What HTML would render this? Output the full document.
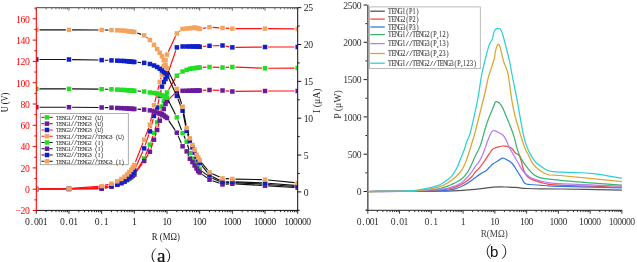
<!DOCTYPE html><html><head><meta charset="utf-8"><style>html,body{margin:0;padding:0;background:#fff;}svg{display:block;}</style></head><body><svg width="637" height="262" viewBox="0 0 637 262" font-family="'Liberation Serif','Noto Serif CJK SC',serif"><rect x="0" y="0" width="637" height="262" fill="#fff"/><g clip-path="url(#clipL)"><defs><clipPath id="clipL"><rect x="36.3" y="5.2" width="261.4" height="207.70000000000002"/></clipPath></defs><path d="M39.45,189.08L65.83,188.92M72.12,188.85L98.50,188.45M104.74,187.80L108.39,187.10M135.98,171.62L142.50,161.08M145.37,155.49L148.70,147.51M150.95,141.63L152.96,135.87M154.91,129.88L156.25,125.42M158.06,119.38L158.85,116.72M160.67,110.69L161.02,109.51M168.59,89.78L175.24,78.42M179.38,73.84L180.05,73.36M202.82,67.34L206.37,67.16M212.66,67.12L219.37,67.38M225.66,67.34L229.20,67.16M235.50,67.13L261.88,68.17M268.17,68.27L294.55,68.03" fill="none" stroke="#ff1010" stroke-width="1.2"/><rect x="34.05" y="186.85" width="4.5" height="4.5" fill="#22dd22"/><rect x="66.72" y="186.65" width="4.5" height="4.5" fill="#22dd22"/><rect x="99.40" y="186.15" width="4.5" height="4.5" fill="#22dd22"/><rect x="109.24" y="184.25" width="4.5" height="4.5" fill="#22dd22"/><rect x="114.99" y="182.55" width="4.5" height="4.5" fill="#22dd22"/><rect x="119.07" y="180.95" width="4.5" height="4.5" fill="#22dd22"/><rect x="122.24" y="179.55" width="4.5" height="4.5" fill="#22dd22"/><rect x="124.83" y="178.05" width="4.5" height="4.5" fill="#22dd22"/><rect x="127.01" y="176.75" width="4.5" height="4.5" fill="#22dd22"/><rect x="128.91" y="175.25" width="4.5" height="4.5" fill="#22dd22"/><rect x="130.58" y="173.75" width="4.5" height="4.5" fill="#22dd22"/><rect x="132.07" y="172.05" width="4.5" height="4.5" fill="#22dd22"/><rect x="141.91" y="156.15" width="4.5" height="4.5" fill="#22dd22"/><rect x="147.66" y="142.35" width="4.5" height="4.5" fill="#22dd22"/><rect x="151.75" y="130.65" width="4.5" height="4.5" fill="#22dd22"/><rect x="154.91" y="120.15" width="4.5" height="4.5" fill="#22dd22"/><rect x="157.50" y="111.45" width="4.5" height="4.5" fill="#22dd22"/><rect x="159.69" y="104.25" width="4.5" height="4.5" fill="#22dd22"/><rect x="161.58" y="98.85" width="4.5" height="4.5" fill="#22dd22"/><rect x="163.25" y="94.15" width="4.5" height="4.5" fill="#22dd22"/><rect x="164.75" y="90.25" width="4.5" height="4.5" fill="#22dd22"/><rect x="174.59" y="73.45" width="4.5" height="4.5" fill="#22dd22"/><rect x="180.34" y="69.25" width="4.5" height="4.5" fill="#22dd22"/><rect x="184.42" y="67.65" width="4.5" height="4.5" fill="#22dd22"/><rect x="187.59" y="66.55" width="4.5" height="4.5" fill="#22dd22"/><rect x="190.18" y="66.15" width="4.5" height="4.5" fill="#22dd22"/><rect x="192.36" y="65.85" width="4.5" height="4.5" fill="#22dd22"/><rect x="194.26" y="65.65" width="4.5" height="4.5" fill="#22dd22"/><rect x="195.93" y="65.45" width="4.5" height="4.5" fill="#22dd22"/><rect x="197.43" y="65.25" width="4.5" height="4.5" fill="#22dd22"/><rect x="207.26" y="64.75" width="4.5" height="4.5" fill="#22dd22"/><rect x="220.26" y="65.25" width="4.5" height="4.5" fill="#22dd22"/><rect x="230.10" y="64.75" width="4.5" height="4.5" fill="#22dd22"/><rect x="262.77" y="66.05" width="4.5" height="4.5" fill="#22dd22"/><rect x="295.45" y="65.75" width="4.5" height="4.5" fill="#22dd22"/><path d="M39.45,189.09L65.83,189.01M72.12,188.98L98.50,188.82M104.73,188.14L108.41,187.36M136.18,171.95L142.31,163.55M145.82,158.32L148.26,154.38M150.93,148.72L152.98,142.68M154.97,136.71L156.19,132.99M158.01,126.97L158.91,123.73M160.73,117.71L160.96,116.99M169.27,98.81L174.57,93.69M202.82,90.34L206.37,90.16M212.66,90.12L219.37,90.38M225.65,90.82L229.22,91.18M235.50,91.45L261.88,91.05M268.17,91.00L294.55,91.00" fill="none" stroke="#ff1010" stroke-width="1.2"/><rect x="34.05" y="186.85" width="4.5" height="4.5" fill="#6a1a9a"/><rect x="66.72" y="186.75" width="4.5" height="4.5" fill="#6a1a9a"/><rect x="99.40" y="186.55" width="4.5" height="4.5" fill="#6a1a9a"/><rect x="109.24" y="184.45" width="4.5" height="4.5" fill="#6a1a9a"/><rect x="114.99" y="182.55" width="4.5" height="4.5" fill="#6a1a9a"/><rect x="119.07" y="180.86" width="4.5" height="4.5" fill="#6a1a9a"/><rect x="122.24" y="179.55" width="4.5" height="4.5" fill="#6a1a9a"/><rect x="124.83" y="177.63" width="4.5" height="4.5" fill="#6a1a9a"/><rect x="127.01" y="176.01" width="4.5" height="4.5" fill="#6a1a9a"/><rect x="128.91" y="174.60" width="4.5" height="4.5" fill="#6a1a9a"/><rect x="130.58" y="173.36" width="4.5" height="4.5" fill="#6a1a9a"/><rect x="132.07" y="172.25" width="4.5" height="4.5" fill="#6a1a9a"/><rect x="141.91" y="158.75" width="4.5" height="4.5" fill="#6a1a9a"/><rect x="147.66" y="149.45" width="4.5" height="4.5" fill="#6a1a9a"/><rect x="151.75" y="137.45" width="4.5" height="4.5" fill="#6a1a9a"/><rect x="154.91" y="127.75" width="4.5" height="4.5" fill="#6a1a9a"/><rect x="157.50" y="118.45" width="4.5" height="4.5" fill="#6a1a9a"/><rect x="159.69" y="111.75" width="4.5" height="4.5" fill="#6a1a9a"/><rect x="161.58" y="106.75" width="4.5" height="4.5" fill="#6a1a9a"/><rect x="163.25" y="101.75" width="4.5" height="4.5" fill="#6a1a9a"/><rect x="164.75" y="98.75" width="4.5" height="4.5" fill="#6a1a9a"/><rect x="174.59" y="89.25" width="4.5" height="4.5" fill="#6a1a9a"/><rect x="180.34" y="88.55" width="4.5" height="4.5" fill="#6a1a9a"/><rect x="184.42" y="88.48" width="4.5" height="4.5" fill="#6a1a9a"/><rect x="187.59" y="88.42" width="4.5" height="4.5" fill="#6a1a9a"/><rect x="190.18" y="88.38" width="4.5" height="4.5" fill="#6a1a9a"/><rect x="192.36" y="88.34" width="4.5" height="4.5" fill="#6a1a9a"/><rect x="194.26" y="88.31" width="4.5" height="4.5" fill="#6a1a9a"/><rect x="195.93" y="88.28" width="4.5" height="4.5" fill="#6a1a9a"/><rect x="197.43" y="88.25" width="4.5" height="4.5" fill="#6a1a9a"/><rect x="207.26" y="87.75" width="4.5" height="4.5" fill="#6a1a9a"/><rect x="220.26" y="88.25" width="4.5" height="4.5" fill="#6a1a9a"/><rect x="230.10" y="89.25" width="4.5" height="4.5" fill="#6a1a9a"/><rect x="262.77" y="88.75" width="4.5" height="4.5" fill="#6a1a9a"/><rect x="295.45" y="88.75" width="4.5" height="4.5" fill="#6a1a9a"/><path d="M39.45,188.98L65.83,188.82M72.12,188.67L98.50,187.63M104.74,186.87L108.40,186.13M135.61,167.62L142.88,151.28M145.17,145.42L148.91,134.38M150.72,128.36L153.19,119.04M155.11,113.05L156.05,110.55M157.85,104.53L159.07,99.07M160.47,92.93L161.22,89.67M168.02,73.02L175.81,50.38M202.81,46.48L206.38,46.12M212.66,45.73L219.36,45.57M225.61,46.10L229.26,46.80M235.50,47.36L261.88,47.04M268.17,47.00L294.55,47.00" fill="none" stroke="#ff1010" stroke-width="1.2"/><rect x="34.05" y="186.75" width="4.5" height="4.5" fill="#1020c8"/><rect x="66.72" y="186.55" width="4.5" height="4.5" fill="#1020c8"/><rect x="99.40" y="185.25" width="4.5" height="4.5" fill="#1020c8"/><rect x="109.24" y="183.25" width="4.5" height="4.5" fill="#1020c8"/><rect x="114.99" y="182.25" width="4.5" height="4.5" fill="#1020c8"/><rect x="119.07" y="180.25" width="4.5" height="4.5" fill="#1020c8"/><rect x="122.24" y="178.25" width="4.5" height="4.5" fill="#1020c8"/><rect x="124.83" y="176.25" width="4.5" height="4.5" fill="#1020c8"/><rect x="127.01" y="174.25" width="4.5" height="4.5" fill="#1020c8"/><rect x="128.91" y="172.25" width="4.5" height="4.5" fill="#1020c8"/><rect x="130.58" y="170.25" width="4.5" height="4.5" fill="#1020c8"/><rect x="132.07" y="168.25" width="4.5" height="4.5" fill="#1020c8"/><rect x="141.91" y="146.15" width="4.5" height="4.5" fill="#1020c8"/><rect x="147.66" y="129.15" width="4.5" height="4.5" fill="#1020c8"/><rect x="151.75" y="113.75" width="4.5" height="4.5" fill="#1020c8"/><rect x="154.91" y="105.35" width="4.5" height="4.5" fill="#1020c8"/><rect x="157.50" y="93.75" width="4.5" height="4.5" fill="#1020c8"/><rect x="159.69" y="84.35" width="4.5" height="4.5" fill="#1020c8"/><rect x="161.58" y="79.75" width="4.5" height="4.5" fill="#1020c8"/><rect x="163.25" y="76.75" width="4.5" height="4.5" fill="#1020c8"/><rect x="164.75" y="73.75" width="4.5" height="4.5" fill="#1020c8"/><rect x="174.59" y="45.15" width="4.5" height="4.5" fill="#1020c8"/><rect x="180.34" y="44.25" width="4.5" height="4.5" fill="#1020c8"/><rect x="184.42" y="44.25" width="4.5" height="4.5" fill="#1020c8"/><rect x="187.59" y="44.25" width="4.5" height="4.5" fill="#1020c8"/><rect x="190.18" y="44.25" width="4.5" height="4.5" fill="#1020c8"/><rect x="192.36" y="44.25" width="4.5" height="4.5" fill="#1020c8"/><rect x="194.26" y="44.25" width="4.5" height="4.5" fill="#1020c8"/><rect x="195.93" y="44.25" width="4.5" height="4.5" fill="#1020c8"/><rect x="197.43" y="44.55" width="4.5" height="4.5" fill="#1020c8"/><rect x="207.26" y="43.55" width="4.5" height="4.5" fill="#1020c8"/><rect x="220.26" y="43.25" width="4.5" height="4.5" fill="#1020c8"/><rect x="230.10" y="45.15" width="4.5" height="4.5" fill="#1020c8"/><rect x="262.77" y="44.75" width="4.5" height="4.5" fill="#1020c8"/><rect x="295.45" y="44.75" width="4.5" height="4.5" fill="#1020c8"/><path d="M39.45,188.96L65.83,188.64M72.12,188.36L98.51,186.34M104.71,185.35L108.43,184.45M135.47,162.06L143.02,142.64M145.29,136.76L148.79,127.64M150.56,121.62L153.35,108.28M154.79,102.15L156.37,96.05M157.89,89.93L159.03,85.07M160.64,78.98L161.05,77.62M162.62,71.52L163.16,69.08M168.33,51.74L175.51,36.36M179.30,31.53L180.13,30.87M202.78,28.36L206.41,27.74M212.66,27.39L219.37,27.81M225.66,28.19L229.21,28.41M235.50,28.60L261.88,28.60M268.17,28.64L294.55,28.96" fill="none" stroke="#ff1010" stroke-width="1.2"/><rect x="34.05" y="186.75" width="4.5" height="4.5" fill="#f4a35e"/><rect x="66.72" y="186.35" width="4.5" height="4.5" fill="#f4a35e"/><rect x="99.40" y="183.85" width="4.5" height="4.5" fill="#f4a35e"/><rect x="109.24" y="181.45" width="4.5" height="4.5" fill="#f4a35e"/><rect x="114.99" y="179.05" width="4.5" height="4.5" fill="#f4a35e"/><rect x="119.07" y="176.75" width="4.5" height="4.5" fill="#f4a35e"/><rect x="122.24" y="174.55" width="4.5" height="4.5" fill="#f4a35e"/><rect x="124.83" y="172.25" width="4.5" height="4.5" fill="#f4a35e"/><rect x="127.01" y="169.95" width="4.5" height="4.5" fill="#f4a35e"/><rect x="128.91" y="167.55" width="4.5" height="4.5" fill="#f4a35e"/><rect x="130.58" y="165.25" width="4.5" height="4.5" fill="#f4a35e"/><rect x="132.07" y="162.75" width="4.5" height="4.5" fill="#f4a35e"/><rect x="141.91" y="137.45" width="4.5" height="4.5" fill="#f4a35e"/><rect x="147.66" y="122.45" width="4.5" height="4.5" fill="#f4a35e"/><rect x="151.75" y="102.95" width="4.5" height="4.5" fill="#f4a35e"/><rect x="154.91" y="90.75" width="4.5" height="4.5" fill="#f4a35e"/><rect x="157.50" y="79.75" width="4.5" height="4.5" fill="#f4a35e"/><rect x="159.69" y="72.35" width="4.5" height="4.5" fill="#f4a35e"/><rect x="161.58" y="63.75" width="4.5" height="4.5" fill="#f4a35e"/><rect x="163.25" y="57.75" width="4.5" height="4.5" fill="#f4a35e"/><rect x="164.75" y="52.35" width="4.5" height="4.5" fill="#f4a35e"/><rect x="174.59" y="31.25" width="4.5" height="4.5" fill="#f4a35e"/><rect x="180.34" y="26.65" width="4.5" height="4.5" fill="#f4a35e"/><rect x="184.42" y="26.25" width="4.5" height="4.5" fill="#f4a35e"/><rect x="187.59" y="26.05" width="4.5" height="4.5" fill="#f4a35e"/><rect x="190.18" y="25.75" width="4.5" height="4.5" fill="#f4a35e"/><rect x="192.36" y="25.25" width="4.5" height="4.5" fill="#f4a35e"/><rect x="194.26" y="25.75" width="4.5" height="4.5" fill="#f4a35e"/><rect x="195.93" y="26.05" width="4.5" height="4.5" fill="#f4a35e"/><rect x="197.43" y="26.65" width="4.5" height="4.5" fill="#f4a35e"/><rect x="207.26" y="24.95" width="4.5" height="4.5" fill="#f4a35e"/><rect x="220.26" y="25.75" width="4.5" height="4.5" fill="#f4a35e"/><rect x="230.10" y="26.35" width="4.5" height="4.5" fill="#f4a35e"/><rect x="262.77" y="26.35" width="4.5" height="4.5" fill="#f4a35e"/><rect x="295.45" y="26.75" width="4.5" height="4.5" fill="#f4a35e"/><path d="M39.45,88.90L65.82,88.90M72.12,88.93L98.50,89.17M104.80,89.23L108.34,89.27M137.47,91.02L141.02,91.28M168.40,100.42L175.43,114.58M177.93,120.36L181.50,130.04M183.93,135.85L185.33,138.85M187.52,144.73L188.99,149.97M202.18,171.41L207.01,175.09M212.39,178.28L219.64,181.52M225.66,182.70L229.20,182.60M235.50,182.67L261.88,184.13M268.17,184.53L294.56,186.47" fill="none" stroke="#111" stroke-width="1.15"/><rect x="34.05" y="86.65" width="4.5" height="4.5" fill="#22dd22"/><rect x="66.72" y="86.65" width="4.5" height="4.5" fill="#22dd22"/><rect x="99.40" y="86.95" width="4.5" height="4.5" fill="#22dd22"/><rect x="109.24" y="87.05" width="4.5" height="4.5" fill="#22dd22"/><rect x="114.99" y="87.36" width="4.5" height="4.5" fill="#22dd22"/><rect x="119.07" y="87.58" width="4.5" height="4.5" fill="#22dd22"/><rect x="122.24" y="87.75" width="4.5" height="4.5" fill="#22dd22"/><rect x="124.83" y="87.96" width="4.5" height="4.5" fill="#22dd22"/><rect x="127.01" y="88.14" width="4.5" height="4.5" fill="#22dd22"/><rect x="128.91" y="88.29" width="4.5" height="4.5" fill="#22dd22"/><rect x="130.58" y="88.43" width="4.5" height="4.5" fill="#22dd22"/><rect x="132.07" y="88.55" width="4.5" height="4.5" fill="#22dd22"/><rect x="141.91" y="89.25" width="4.5" height="4.5" fill="#22dd22"/><rect x="147.66" y="90.25" width="4.5" height="4.5" fill="#22dd22"/><rect x="151.75" y="90.75" width="4.5" height="4.5" fill="#22dd22"/><rect x="154.91" y="91.55" width="4.5" height="4.5" fill="#22dd22"/><rect x="157.50" y="92.25" width="4.5" height="4.5" fill="#22dd22"/><rect x="159.69" y="93.05" width="4.5" height="4.5" fill="#22dd22"/><rect x="161.58" y="93.75" width="4.5" height="4.5" fill="#22dd22"/><rect x="163.25" y="94.55" width="4.5" height="4.5" fill="#22dd22"/><rect x="164.75" y="95.35" width="4.5" height="4.5" fill="#22dd22"/><rect x="174.59" y="115.15" width="4.5" height="4.5" fill="#22dd22"/><rect x="180.34" y="130.75" width="4.5" height="4.5" fill="#22dd22"/><rect x="184.42" y="139.45" width="4.5" height="4.5" fill="#22dd22"/><rect x="187.59" y="150.75" width="4.5" height="4.5" fill="#22dd22"/><rect x="190.18" y="156.45" width="4.5" height="4.5" fill="#22dd22"/><rect x="192.36" y="159.75" width="4.5" height="4.5" fill="#22dd22"/><rect x="194.26" y="162.75" width="4.5" height="4.5" fill="#22dd22"/><rect x="195.93" y="165.25" width="4.5" height="4.5" fill="#22dd22"/><rect x="197.43" y="167.25" width="4.5" height="4.5" fill="#22dd22"/><rect x="207.26" y="174.75" width="4.5" height="4.5" fill="#22dd22"/><rect x="220.26" y="180.55" width="4.5" height="4.5" fill="#22dd22"/><rect x="230.10" y="180.25" width="4.5" height="4.5" fill="#22dd22"/><rect x="262.77" y="182.05" width="4.5" height="4.5" fill="#22dd22"/><rect x="295.45" y="184.45" width="4.5" height="4.5" fill="#22dd22"/><path d="M39.45,107.20L65.82,107.20M72.12,107.23L98.50,107.47M104.80,107.56L108.34,107.64M137.47,109.19L141.02,109.41M168.75,120.62L175.08,130.08M178.06,135.60L181.36,143.40M187.93,154.29L188.59,155.81M202.22,174.36L206.97,177.84M212.47,180.77L219.55,183.33M225.66,184.18L229.21,183.92M235.49,183.89L261.88,185.51M268.17,185.89L294.56,187.51" fill="none" stroke="#111" stroke-width="1.15"/><rect x="34.05" y="104.95" width="4.5" height="4.5" fill="#6a1a9a"/><rect x="66.72" y="104.95" width="4.5" height="4.5" fill="#6a1a9a"/><rect x="99.40" y="105.25" width="4.5" height="4.5" fill="#6a1a9a"/><rect x="109.24" y="105.45" width="4.5" height="4.5" fill="#6a1a9a"/><rect x="114.99" y="105.72" width="4.5" height="4.5" fill="#6a1a9a"/><rect x="119.07" y="105.90" width="4.5" height="4.5" fill="#6a1a9a"/><rect x="122.24" y="106.05" width="4.5" height="4.5" fill="#6a1a9a"/><rect x="124.83" y="106.23" width="4.5" height="4.5" fill="#6a1a9a"/><rect x="127.01" y="106.39" width="4.5" height="4.5" fill="#6a1a9a"/><rect x="128.91" y="106.52" width="4.5" height="4.5" fill="#6a1a9a"/><rect x="130.58" y="106.64" width="4.5" height="4.5" fill="#6a1a9a"/><rect x="132.07" y="106.75" width="4.5" height="4.5" fill="#6a1a9a"/><rect x="141.91" y="107.35" width="4.5" height="4.5" fill="#6a1a9a"/><rect x="147.66" y="108.15" width="4.5" height="4.5" fill="#6a1a9a"/><rect x="151.75" y="109.25" width="4.5" height="4.5" fill="#6a1a9a"/><rect x="154.91" y="110.25" width="4.5" height="4.5" fill="#6a1a9a"/><rect x="157.50" y="111.25" width="4.5" height="4.5" fill="#6a1a9a"/><rect x="159.69" y="112.25" width="4.5" height="4.5" fill="#6a1a9a"/><rect x="161.58" y="113.25" width="4.5" height="4.5" fill="#6a1a9a"/><rect x="163.25" y="114.55" width="4.5" height="4.5" fill="#6a1a9a"/><rect x="164.75" y="115.75" width="4.5" height="4.5" fill="#6a1a9a"/><rect x="174.59" y="130.45" width="4.5" height="4.5" fill="#6a1a9a"/><rect x="180.34" y="144.05" width="4.5" height="4.5" fill="#6a1a9a"/><rect x="184.42" y="149.15" width="4.5" height="4.5" fill="#6a1a9a"/><rect x="187.59" y="156.45" width="4.5" height="4.5" fill="#6a1a9a"/><rect x="190.18" y="159.75" width="4.5" height="4.5" fill="#6a1a9a"/><rect x="192.36" y="163.25" width="4.5" height="4.5" fill="#6a1a9a"/><rect x="194.26" y="166.25" width="4.5" height="4.5" fill="#6a1a9a"/><rect x="195.93" y="168.75" width="4.5" height="4.5" fill="#6a1a9a"/><rect x="197.43" y="170.25" width="4.5" height="4.5" fill="#6a1a9a"/><rect x="207.26" y="177.45" width="4.5" height="4.5" fill="#6a1a9a"/><rect x="220.26" y="182.15" width="4.5" height="4.5" fill="#6a1a9a"/><rect x="230.10" y="181.45" width="4.5" height="4.5" fill="#6a1a9a"/><rect x="262.77" y="183.45" width="4.5" height="4.5" fill="#6a1a9a"/><rect x="295.45" y="185.45" width="4.5" height="4.5" fill="#6a1a9a"/><path d="M39.45,59.50L65.82,59.50M72.12,59.56L98.50,60.04M104.80,60.20L108.34,60.30M137.46,62.29L141.02,62.61M168.31,77.36L175.53,93.14M177.98,98.93L181.44,107.77M183.21,113.79L186.05,127.91M187.62,134.00L188.89,138.00M191.02,143.92L191.25,144.48M201.67,165.44L207.51,172.56M212.31,176.44L219.71,180.26M225.66,181.70L229.20,181.70M235.50,181.83L261.88,182.87M268.16,183.26L294.56,185.44" fill="none" stroke="#111" stroke-width="1.15"/><rect x="34.05" y="57.25" width="4.5" height="4.5" fill="#1020c8"/><rect x="66.72" y="57.25" width="4.5" height="4.5" fill="#1020c8"/><rect x="99.40" y="57.85" width="4.5" height="4.5" fill="#1020c8"/><rect x="109.24" y="58.15" width="4.5" height="4.5" fill="#1020c8"/><rect x="114.99" y="58.42" width="4.5" height="4.5" fill="#1020c8"/><rect x="119.07" y="58.60" width="4.5" height="4.5" fill="#1020c8"/><rect x="122.24" y="58.75" width="4.5" height="4.5" fill="#1020c8"/><rect x="124.83" y="59.01" width="4.5" height="4.5" fill="#1020c8"/><rect x="127.01" y="59.24" width="4.5" height="4.5" fill="#1020c8"/><rect x="128.91" y="59.43" width="4.5" height="4.5" fill="#1020c8"/><rect x="130.58" y="59.60" width="4.5" height="4.5" fill="#1020c8"/><rect x="132.07" y="59.75" width="4.5" height="4.5" fill="#1020c8"/><rect x="141.91" y="60.65" width="4.5" height="4.5" fill="#1020c8"/><rect x="147.66" y="61.75" width="4.5" height="4.5" fill="#1020c8"/><rect x="151.75" y="63.25" width="4.5" height="4.5" fill="#1020c8"/><rect x="154.91" y="64.75" width="4.5" height="4.5" fill="#1020c8"/><rect x="157.50" y="66.55" width="4.5" height="4.5" fill="#1020c8"/><rect x="159.69" y="68.25" width="4.5" height="4.5" fill="#1020c8"/><rect x="161.58" y="69.75" width="4.5" height="4.5" fill="#1020c8"/><rect x="163.25" y="70.95" width="4.5" height="4.5" fill="#1020c8"/><rect x="164.75" y="72.25" width="4.5" height="4.5" fill="#1020c8"/><rect x="174.59" y="93.75" width="4.5" height="4.5" fill="#1020c8"/><rect x="180.34" y="108.45" width="4.5" height="4.5" fill="#1020c8"/><rect x="184.42" y="128.75" width="4.5" height="4.5" fill="#1020c8"/><rect x="187.59" y="138.75" width="4.5" height="4.5" fill="#1020c8"/><rect x="190.18" y="145.15" width="4.5" height="4.5" fill="#1020c8"/><rect x="192.36" y="150.45" width="4.5" height="4.5" fill="#1020c8"/><rect x="194.26" y="154.75" width="4.5" height="4.5" fill="#1020c8"/><rect x="195.93" y="157.75" width="4.5" height="4.5" fill="#1020c8"/><rect x="197.43" y="160.75" width="4.5" height="4.5" fill="#1020c8"/><rect x="207.26" y="172.75" width="4.5" height="4.5" fill="#1020c8"/><rect x="220.26" y="179.45" width="4.5" height="4.5" fill="#1020c8"/><rect x="230.10" y="179.45" width="4.5" height="4.5" fill="#1020c8"/><rect x="262.77" y="180.75" width="4.5" height="4.5" fill="#1020c8"/><rect x="295.45" y="183.45" width="4.5" height="4.5" fill="#1020c8"/><path d="M39.45,29.90L65.82,29.90M72.12,29.91L98.50,29.99M104.80,30.03L108.34,30.07M137.30,33.03L141.18,34.37M146.60,37.39L147.48,38.11M168.36,71.24L175.47,86.06M177.81,91.90L181.62,103.70M183.18,109.79L186.08,124.91M187.60,131.01L188.91,135.29M190.97,141.24L191.29,142.06M201.66,162.74L207.52,169.96M212.37,173.72L219.65,177.08M225.66,178.59L229.21,178.81M235.50,179.07L261.88,179.63M268.16,180.02L294.57,182.68" fill="none" stroke="#111" stroke-width="1.15"/><rect x="34.05" y="27.65" width="4.5" height="4.5" fill="#f4a35e"/><rect x="66.72" y="27.65" width="4.5" height="4.5" fill="#f4a35e"/><rect x="99.40" y="27.75" width="4.5" height="4.5" fill="#f4a35e"/><rect x="109.24" y="27.85" width="4.5" height="4.5" fill="#f4a35e"/><rect x="114.99" y="28.05" width="4.5" height="4.5" fill="#f4a35e"/><rect x="119.07" y="28.28" width="4.5" height="4.5" fill="#f4a35e"/><rect x="122.24" y="28.45" width="4.5" height="4.5" fill="#f4a35e"/><rect x="124.83" y="28.79" width="4.5" height="4.5" fill="#f4a35e"/><rect x="127.01" y="29.08" width="4.5" height="4.5" fill="#f4a35e"/><rect x="128.91" y="29.33" width="4.5" height="4.5" fill="#f4a35e"/><rect x="130.58" y="29.55" width="4.5" height="4.5" fill="#f4a35e"/><rect x="132.07" y="29.75" width="4.5" height="4.5" fill="#f4a35e"/><rect x="141.91" y="33.15" width="4.5" height="4.5" fill="#f4a35e"/><rect x="147.66" y="37.85" width="4.5" height="4.5" fill="#f4a35e"/><rect x="151.75" y="42.55" width="4.5" height="4.5" fill="#f4a35e"/><rect x="154.91" y="46.75" width="4.5" height="4.5" fill="#f4a35e"/><rect x="157.50" y="50.55" width="4.5" height="4.5" fill="#f4a35e"/><rect x="159.69" y="54.05" width="4.5" height="4.5" fill="#f4a35e"/><rect x="161.58" y="58.05" width="4.5" height="4.5" fill="#f4a35e"/><rect x="163.25" y="62.75" width="4.5" height="4.5" fill="#f4a35e"/><rect x="164.75" y="66.15" width="4.5" height="4.5" fill="#f4a35e"/><rect x="174.59" y="86.65" width="4.5" height="4.5" fill="#f4a35e"/><rect x="180.34" y="104.45" width="4.5" height="4.5" fill="#f4a35e"/><rect x="184.42" y="125.75" width="4.5" height="4.5" fill="#f4a35e"/><rect x="187.59" y="136.05" width="4.5" height="4.5" fill="#f4a35e"/><rect x="190.18" y="142.75" width="4.5" height="4.5" fill="#f4a35e"/><rect x="192.36" y="147.55" width="4.5" height="4.5" fill="#f4a35e"/><rect x="194.26" y="152.45" width="4.5" height="4.5" fill="#f4a35e"/><rect x="195.93" y="155.25" width="4.5" height="4.5" fill="#f4a35e"/><rect x="197.43" y="158.05" width="4.5" height="4.5" fill="#f4a35e"/><rect x="207.26" y="170.15" width="4.5" height="4.5" fill="#f4a35e"/><rect x="220.26" y="176.15" width="4.5" height="4.5" fill="#f4a35e"/><rect x="230.10" y="176.75" width="4.5" height="4.5" fill="#f4a35e"/><rect x="262.77" y="177.45" width="4.5" height="4.5" fill="#f4a35e"/><rect x="295.45" y="180.75" width="4.5" height="4.5" fill="#f4a35e"/></g><line x1="36.3" y1="7.7" x2="297.7" y2="7.7" stroke="#444" stroke-width="1"/><line x1="36.3" y1="210.4" x2="298.2" y2="210.4" stroke="#111" stroke-width="1"/><line x1="297.7" y1="7.7" x2="297.7" y2="210.4" stroke="#111" stroke-width="1"/><line x1="36.3" y1="7.7" x2="36.3" y2="210.4" stroke="#ff0000" stroke-width="1.1"/><path d="M36.30,210.4v3.4M46.14,210.4v1.8M51.89,210.4v1.8M55.97,210.4v1.8M59.14,210.4v1.8M61.73,210.4v1.8M63.91,210.4v1.8M65.81,210.4v1.8M67.48,210.4v1.8M68.97,210.4v3.4M78.81,210.4v1.8M84.56,210.4v1.8M88.65,210.4v1.8M91.81,210.4v1.8M94.40,210.4v1.8M96.59,210.4v1.8M98.48,210.4v1.8M100.15,210.4v1.8M101.65,210.4v3.4M111.49,210.4v1.8M117.24,210.4v1.8M121.32,210.4v1.8M124.49,210.4v1.8M127.08,210.4v1.8M129.26,210.4v1.8M131.16,210.4v1.8M132.83,210.4v1.8M134.32,210.4v3.4M144.16,210.4v1.8M149.91,210.4v1.8M154.00,210.4v1.8M157.16,210.4v1.8M159.75,210.4v1.8M161.94,210.4v1.8M163.83,210.4v1.8M165.50,210.4v1.8M167.00,210.4v3.4M176.84,210.4v1.8M182.59,210.4v1.8M186.67,210.4v1.8M189.84,210.4v1.8M192.43,210.4v1.8M194.61,210.4v1.8M196.51,210.4v1.8M198.18,210.4v1.8M199.68,210.4v3.4M209.51,210.4v1.8M215.26,210.4v1.8M219.35,210.4v1.8M222.51,210.4v1.8M225.10,210.4v1.8M227.29,210.4v1.8M229.18,210.4v1.8M230.85,210.4v1.8M232.35,210.4v3.4M242.19,210.4v1.8M247.94,210.4v1.8M252.02,210.4v1.8M255.19,210.4v1.8M257.78,210.4v1.8M259.96,210.4v1.8M261.86,210.4v1.8M263.53,210.4v1.8M265.02,210.4v3.4M274.86,210.4v1.8M280.61,210.4v1.8M284.70,210.4v1.8M287.86,210.4v1.8M290.45,210.4v1.8M292.64,210.4v1.8M294.53,210.4v1.8M296.20,210.4v1.8M297.70,210.4v3.4" stroke="#111" stroke-width="0.9" fill="none"/><path d="M36.30,7.7v3M46.14,7.7v1.6M51.89,7.7v1.6M55.97,7.7v1.6M59.14,7.7v1.6M61.73,7.7v1.6M63.91,7.7v1.6M65.81,7.7v1.6M67.48,7.7v1.6M68.97,7.7v3M78.81,7.7v1.6M84.56,7.7v1.6M88.65,7.7v1.6M91.81,7.7v1.6M94.40,7.7v1.6M96.59,7.7v1.6M98.48,7.7v1.6M100.15,7.7v1.6M101.65,7.7v3M111.49,7.7v1.6M117.24,7.7v1.6M121.32,7.7v1.6M124.49,7.7v1.6M127.08,7.7v1.6M129.26,7.7v1.6M131.16,7.7v1.6M132.83,7.7v1.6M134.32,7.7v3M144.16,7.7v1.6M149.91,7.7v1.6M154.00,7.7v1.6M157.16,7.7v1.6M159.75,7.7v1.6M161.94,7.7v1.6M163.83,7.7v1.6M165.50,7.7v1.6M167.00,7.7v3M176.84,7.7v1.6M182.59,7.7v1.6M186.67,7.7v1.6M189.84,7.7v1.6M192.43,7.7v1.6M194.61,7.7v1.6M196.51,7.7v1.6M198.18,7.7v1.6M199.68,7.7v3M209.51,7.7v1.6M215.26,7.7v1.6M219.35,7.7v1.6M222.51,7.7v1.6M225.10,7.7v1.6M227.29,7.7v1.6M229.18,7.7v1.6M230.85,7.7v1.6M232.35,7.7v3M242.19,7.7v1.6M247.94,7.7v1.6M252.02,7.7v1.6M255.19,7.7v1.6M257.78,7.7v1.6M259.96,7.7v1.6M261.86,7.7v1.6M263.53,7.7v1.6M265.02,7.7v3M274.86,7.7v1.6M280.61,7.7v1.6M284.70,7.7v1.6M287.86,7.7v1.6M290.45,7.7v1.6M292.64,7.7v1.6M294.53,7.7v1.6M296.20,7.7v1.6M297.70,7.7v3" stroke="#444" stroke-width="0.8" fill="none"/><path d="M36.3,210.50h-3.6M36.3,199.85h-2.0M36.3,189.20h-3.6M36.3,178.55h-2.0M36.3,167.90h-3.6M36.3,157.25h-2.0M36.3,146.60h-3.6M36.3,135.95h-2.0M36.3,125.30h-3.6M36.3,114.65h-2.0M36.3,104.00h-3.6M36.3,93.35h-2.0M36.3,82.70h-3.6M36.3,72.05h-2.0M36.3,61.40h-3.6M36.3,50.75h-2.0M36.3,40.10h-3.6M36.3,29.45h-2.0M36.3,18.80h-3.6M36.3,8.15h-2.0" stroke="#ff0000" stroke-width="1" fill="none"/><path d="M297.7,210.33h2.0M297.7,191.90h3.6M297.7,173.47h2.0M297.7,155.05h3.6M297.7,136.62h2.0M297.7,118.20h3.6M297.7,99.78h2.0M297.7,81.35h3.6M297.7,62.93h2.0M297.7,44.50h3.6M297.7,26.08h2.0M297.7,7.65h3.6" stroke="#111" stroke-width="1" fill="none"/><text x="18.35 22.85 27.35" y="214.30" font-size="9.7" fill="#ff0000" text-anchor="middle">−20</text><text x="27.35" y="193.00" font-size="9.7" fill="#ff0000" text-anchor="middle">0</text><text x="22.85 27.35" y="171.70" font-size="9.7" fill="#ff0000" text-anchor="middle">20</text><text x="22.85 27.35" y="150.40" font-size="9.7" fill="#ff0000" text-anchor="middle">40</text><text x="22.85 27.35" y="129.10" font-size="9.7" fill="#ff0000" text-anchor="middle">60</text><text x="22.85 27.35" y="107.80" font-size="9.7" fill="#ff0000" text-anchor="middle">80</text><text x="18.35 22.85 27.35" y="86.50" font-size="9.7" fill="#ff0000" text-anchor="middle">100</text><text x="18.35 22.85 27.35" y="65.20" font-size="9.7" fill="#ff0000" text-anchor="middle">120</text><text x="18.35 22.85 27.35" y="43.90" font-size="9.7" fill="#ff0000" text-anchor="middle">140</text><text x="18.35 22.85 27.35" y="22.60" font-size="9.7" fill="#ff0000" text-anchor="middle">160</text><text x="306.15" y="195.70" font-size="9.7" fill="#222" text-anchor="middle">0</text><text x="306.15" y="158.85" font-size="9.7" fill="#222" text-anchor="middle">5</text><text x="306.15 310.65" y="122.00" font-size="9.7" fill="#222" text-anchor="middle">10</text><text x="306.15 310.65" y="85.15" font-size="9.7" fill="#222" text-anchor="middle">15</text><text x="306.15 310.65" y="48.30" font-size="9.7" fill="#222" text-anchor="middle">20</text><text x="306.15 310.65" y="11.45" font-size="9.7" fill="#222" text-anchor="middle">25</text><text x="27.50 31.90 36.30 40.70 45.10" y="224.90" font-size="9.7" fill="#222" text-anchor="middle">0.001</text><text x="62.38 66.78 71.18 75.58" y="224.90" font-size="9.7" fill="#222" text-anchor="middle">0.01</text><text x="97.25 101.65 106.05" y="224.90" font-size="9.7" fill="#222" text-anchor="middle">0.1</text><text x="134.32" y="224.90" font-size="9.7" fill="#222" text-anchor="middle">1</text><text x="164.80 169.20" y="224.90" font-size="9.7" fill="#222" text-anchor="middle">10</text><text x="195.28 199.68 204.08" y="224.90" font-size="9.7" fill="#222" text-anchor="middle">100</text><text x="225.75 230.15 234.55 238.95" y="224.90" font-size="9.7" fill="#222" text-anchor="middle">1000</text><text x="256.22 260.62 265.02 269.42 273.82" y="224.90" font-size="9.7" fill="#222" text-anchor="middle">10000</text><text x="286.70 291.10 295.50 299.90 304.30 308.70" y="224.90" font-size="9.7" fill="#222" text-anchor="middle">100000</text><text x="0.00" y="0.00" font-size="11" fill="#222" text-anchor="middle" textLength="19.60" lengthAdjust="spacingAndGlyphs" transform="translate(8.1,102.5) rotate(-90)">U (V)</text><text x="0.00" y="0.00" font-size="9.8" fill="#222" text-anchor="middle" transform="translate(319.6,100.8) rotate(-90)">I (μA)</text><text x="165.80" y="240.10" font-size="9.4" fill="#222" text-anchor="middle" textLength="28.00" lengthAdjust="spacingAndGlyphs">R (MΩ)</text><text x="140.4" y="263.4" font-size="17" fill="#111" font-family="Liberation Serif, Noto Serif CJK SC, serif"><tspan font-weight="300">（</tspan><tspan font-size="19" dx="-0.3" dy="-1" stroke="#111" stroke-width="0.25">a</tspan><tspan font-weight="300" dx="-1.2" dy="1">）</tspan></text><rect x="40.3" y="113.4" width="88" height="51.3" fill="#fff" stroke="#999" stroke-width="0.8"/><path d="M41.5,117.40h3M49.3,117.40h3.4" stroke="#ff1010" stroke-width="1.1"/><rect x="44.75" y="115.15" width="4.5" height="4.5" fill="#22dd22"/><text x="74.08 77.87 81.67 85.46 89.26 93.05 96.85 100.64 104.44 108.23 112.03 115.82 119.62 123.41 127.21 131.00" y="119.70" font-size="7.0" fill="#333" text-anchor="middle" transform="scale(0.78,1)" stroke="#333" stroke-width="0.1">TENG1<tspan font-family="Liberation Mono, monospace" font-size="6.65">/</tspan><tspan font-family="Liberation Mono, monospace" font-size="6.65">/</tspan>TENG2 (U)</text><path d="M41.5,123.67h3M49.3,123.67h3.4" stroke="#ff1010" stroke-width="1.1"/><rect x="44.75" y="121.42" width="4.5" height="4.5" fill="#6a1a9a"/><text x="74.08 77.87 81.67 85.46 89.26 93.05 96.85 100.64 104.44 108.23 112.03 115.82 119.62 123.41 127.21 131.00" y="125.97" font-size="7.0" fill="#333" text-anchor="middle" transform="scale(0.78,1)" stroke="#333" stroke-width="0.1">TENG1<tspan font-family="Liberation Mono, monospace" font-size="6.65">/</tspan><tspan font-family="Liberation Mono, monospace" font-size="6.65">/</tspan>TENG3 (U)</text><path d="M41.5,129.94h3M49.3,129.94h3.4" stroke="#ff1010" stroke-width="1.1"/><rect x="44.75" y="127.69" width="4.5" height="4.5" fill="#1020c8"/><text x="74.08 77.87 81.67 85.46 89.26 93.05 96.85 100.64 104.44 108.23 112.03 115.82 119.62 123.41 127.21 131.00" y="132.24" font-size="7.0" fill="#333" text-anchor="middle" transform="scale(0.78,1)" stroke="#333" stroke-width="0.1">TENG2<tspan font-family="Liberation Mono, monospace" font-size="6.65">/</tspan><tspan font-family="Liberation Mono, monospace" font-size="6.65">/</tspan>TENG3 (U)</text><path d="M41.5,136.21h3M49.3,136.21h3.4" stroke="#ff1010" stroke-width="1.1"/><rect x="44.75" y="133.96" width="4.5" height="4.5" fill="#f4a35e"/><text x="74.08 77.87 81.67 85.46 89.26 93.05 96.85 100.64 104.44 108.23 112.03 115.82 119.62 123.41 127.21 131.00 134.79 138.59 142.38 146.18 149.97 153.77 157.56" y="138.51" font-size="7.0" fill="#333" text-anchor="middle" transform="scale(0.78,1)" stroke="#333" stroke-width="0.1">TENG1<tspan font-family="Liberation Mono, monospace" font-size="6.65">/</tspan><tspan font-family="Liberation Mono, monospace" font-size="6.65">/</tspan>TENG2<tspan font-family="Liberation Mono, monospace" font-size="6.65">/</tspan><tspan font-family="Liberation Mono, monospace" font-size="6.65">/</tspan>TENG3 (U)</text><path d="M41.5,142.48h3M49.3,142.48h3.4" stroke="#111" stroke-width="1.1"/><rect x="44.75" y="140.23" width="4.5" height="4.5" fill="#22dd22"/><text x="74.08 77.87 81.67 85.46 89.26 93.05 96.85 100.64 104.44 108.23 112.03 115.82 119.62 123.41 127.21 131.00" y="144.78" font-size="7.0" fill="#333" text-anchor="middle" transform="scale(0.78,1)" stroke="#333" stroke-width="0.1">TENG1<tspan font-family="Liberation Mono, monospace" font-size="6.65">/</tspan><tspan font-family="Liberation Mono, monospace" font-size="6.65">/</tspan>TENG2 (I)</text><path d="M41.5,148.75h3M49.3,148.75h3.4" stroke="#111" stroke-width="1.1"/><rect x="44.75" y="146.50" width="4.5" height="4.5" fill="#6a1a9a"/><text x="74.08 77.87 81.67 85.46 89.26 93.05 96.85 100.64 104.44 108.23 112.03 115.82 119.62 123.41 127.21 131.00" y="151.05" font-size="7.0" fill="#333" text-anchor="middle" transform="scale(0.78,1)" stroke="#333" stroke-width="0.1">TENG1<tspan font-family="Liberation Mono, monospace" font-size="6.65">/</tspan><tspan font-family="Liberation Mono, monospace" font-size="6.65">/</tspan>TENG3 (I)</text><path d="M41.5,155.02h3M49.3,155.02h3.4" stroke="#111" stroke-width="1.1"/><rect x="44.75" y="152.77" width="4.5" height="4.5" fill="#1020c8"/><text x="74.08 77.87 81.67 85.46 89.26 93.05 96.85 100.64 104.44 108.23 112.03 115.82 119.62 123.41 127.21 131.00" y="157.32" font-size="7.0" fill="#333" text-anchor="middle" transform="scale(0.78,1)" stroke="#333" stroke-width="0.1">TENG2<tspan font-family="Liberation Mono, monospace" font-size="6.65">/</tspan><tspan font-family="Liberation Mono, monospace" font-size="6.65">/</tspan>TENG3 (I)</text><path d="M41.5,161.29h3M49.3,161.29h3.4" stroke="#111" stroke-width="1.1"/><rect x="44.75" y="159.04" width="4.5" height="4.5" fill="#f4a35e"/><text x="74.08 77.87 81.67 85.46 89.26 93.05 96.85 100.64 104.44 108.23 112.03 115.82 119.62 123.41 127.21 131.00 134.79 138.59 142.38 146.18 149.97 153.77 157.56" y="163.59" font-size="7.0" fill="#333" text-anchor="middle" transform="scale(0.78,1)" stroke="#333" stroke-width="0.1">TENG1<tspan font-family="Liberation Mono, monospace" font-size="6.65">/</tspan><tspan font-family="Liberation Mono, monospace" font-size="6.65">/</tspan>TENG2<tspan font-family="Liberation Mono, monospace" font-size="6.65">/</tspan><tspan font-family="Liberation Mono, monospace" font-size="6.65">/</tspan>TENG3 (I)</text><line x1="367.8" y1="4.8" x2="367.8" y2="210.3" stroke="#666" stroke-width="1.6"/><line x1="366.3" y1="210.3" x2="622.3" y2="210.3" stroke="#222" stroke-width="1"/><path d="M367.80,210.3v3.4M377.36,210.3v1.8M382.95,210.3v1.8M386.92,210.3v1.8M390.00,210.3v1.8M392.52,210.3v1.8M394.64,210.3v1.8M396.48,210.3v1.8M398.11,210.3v1.8M399.56,210.3v3.4M409.12,210.3v1.8M414.72,210.3v1.8M418.69,210.3v1.8M421.76,210.3v1.8M424.28,210.3v1.8M426.40,210.3v1.8M428.25,210.3v1.8M429.87,210.3v1.8M431.32,210.3v3.4M440.89,210.3v1.8M446.48,210.3v1.8M450.45,210.3v1.8M453.53,210.3v1.8M456.04,210.3v1.8M458.17,210.3v1.8M460.01,210.3v1.8M461.63,210.3v1.8M463.09,210.3v3.4M472.65,210.3v1.8M478.24,210.3v1.8M482.21,210.3v1.8M485.29,210.3v1.8M487.80,210.3v1.8M489.93,210.3v1.8M491.77,210.3v1.8M493.40,210.3v1.8M494.85,210.3v3.4M504.41,210.3v1.8M510.00,210.3v1.8M513.97,210.3v1.8M517.05,210.3v1.8M519.57,210.3v1.8M521.69,210.3v1.8M523.53,210.3v1.8M525.16,210.3v1.8M526.61,210.3v3.4M536.17,210.3v1.8M541.77,210.3v1.8M545.74,210.3v1.8M548.81,210.3v1.8M551.33,210.3v1.8M553.45,210.3v1.8M555.30,210.3v1.8M556.92,210.3v1.8M558.38,210.3v3.4M567.94,210.3v1.8M573.53,210.3v1.8M577.50,210.3v1.8M580.58,210.3v1.8M583.09,210.3v1.8M585.22,210.3v1.8M587.06,210.3v1.8M588.68,210.3v1.8M590.14,210.3v3.4M599.70,210.3v1.8M605.29,210.3v1.8M609.26,210.3v1.8M612.34,210.3v1.8M614.85,210.3v1.8M616.98,210.3v1.8M618.82,210.3v1.8M620.45,210.3v1.8M621.90,210.3v3.4" stroke="#222" stroke-width="0.9" fill="none"/><path d="M367.0,210.15h-1.6M367.0,191.50h-3.4M367.0,172.85h-1.6M367.0,154.20h-3.4M367.0,135.55h-1.6M367.0,116.90h-3.4M367.0,98.25h-1.6M367.0,79.60h-3.4M367.0,60.95h-1.6M367.0,42.30h-3.4M367.0,23.65h-1.6M367.0,5.00h-3.4" stroke="#222" stroke-width="1" fill="none"/><text x="359.15" y="195.30" font-size="9.7" fill="#333" text-anchor="middle">0</text><text x="350.15 354.65 359.15" y="158.00" font-size="9.7" fill="#333" text-anchor="middle">500</text><text x="345.65 350.15 354.65 359.15" y="120.70" font-size="9.7" fill="#333" text-anchor="middle">1000</text><text x="345.65 350.15 354.65 359.15" y="83.40" font-size="9.7" fill="#333" text-anchor="middle">1500</text><text x="345.65 350.15 354.65 359.15" y="46.10" font-size="9.7" fill="#333" text-anchor="middle">2000</text><text x="345.65 350.15 354.65 359.15" y="8.80" font-size="9.7" fill="#333" text-anchor="middle">2500</text><text x="359.20 363.50 367.80 372.10 376.40" y="224.90" font-size="9.7" fill="#333" text-anchor="middle">0.001</text><text x="393.11 397.41 401.71 406.01" y="224.90" font-size="9.7" fill="#333" text-anchor="middle">0.01</text><text x="427.02 431.32 435.62" y="224.90" font-size="9.7" fill="#333" text-anchor="middle">0.1</text><text x="463.09" y="224.90" font-size="9.7" fill="#333" text-anchor="middle">1</text><text x="492.70 497.00" y="224.90" font-size="9.7" fill="#333" text-anchor="middle">10</text><text x="522.31 526.61 530.91" y="224.90" font-size="9.7" fill="#333" text-anchor="middle">100</text><text x="551.92 556.22 560.52 564.82" y="224.90" font-size="9.7" fill="#333" text-anchor="middle">1000</text><text x="581.54 585.84 590.14 594.44 598.74" y="224.90" font-size="9.7" fill="#333" text-anchor="middle">10000</text><text x="611.15 615.45 619.75 624.05 628.35 632.65" y="224.90" font-size="9.7" fill="#333" text-anchor="middle">100000</text><text x="0.00" y="0.00" font-size="9.8" fill="#333" text-anchor="middle" transform="translate(341.4,104.4) rotate(-90)">P (μW)</text><text x="494.30" y="236.70" font-size="9.4" fill="#444" text-anchor="middle" textLength="27.20" lengthAdjust="spacingAndGlyphs">R(MΩ)</text><text x="476.3" y="256.6" font-size="16" fill="#111" font-family="Liberation Serif, Noto Serif CJK SC, serif"><tspan font-weight="300">（</tspan><tspan font-family="Liberation Sans, Noto Sans CJK SC, sans-serif" font-size="15" dx="-2.2">b</tspan><tspan font-weight="300" dx="2.4">）</tspan></text><path d="M367.80,191.50C382.24,191.44 420.00,191.52 440.00,191.20C460.00,190.88 460.40,190.32 467.80,189.90C475.20,189.48 471.88,189.64 477.00,189.10C482.12,188.56 487.80,187.62 493.40,187.20C499.00,186.78 500.42,186.96 505.00,187.00C509.58,187.04 511.74,187.10 516.30,187.40C520.86,187.70 519.06,188.18 527.80,188.50C536.54,188.82 541.18,188.66 560.00,189.00C578.82,189.34 609.52,189.96 621.90,190.20" fill="none" stroke="#555" stroke-width="1.25" stroke-linejoin="round"/><path d="M367.80,191.50C377.24,191.44 400.40,191.58 415.00,191.20C429.60,190.82 433.82,190.10 440.80,189.60C447.78,189.10 446.48,189.40 449.90,188.70C453.32,188.00 454.72,187.50 457.90,186.10C461.08,184.70 463.02,183.56 465.80,181.70C468.58,179.84 469.96,178.68 471.80,176.80C473.64,174.92 473.54,173.98 475.00,172.30C476.46,170.62 477.12,170.78 479.10,168.40C481.08,166.02 482.84,163.36 484.90,160.40C486.96,157.44 487.80,155.88 489.40,153.60C491.00,151.32 491.30,150.28 492.90,149.00C494.50,147.72 495.36,147.80 497.40,147.20C499.44,146.60 501.04,146.10 503.10,146.00C505.16,145.90 506.32,146.46 507.70,146.70C509.08,146.94 509.08,146.74 510.00,147.20C510.92,147.66 511.16,147.80 512.30,149.00C513.44,150.20 514.34,151.90 515.70,153.20C517.06,154.50 517.96,153.82 519.10,155.50C520.24,157.18 520.48,158.66 521.40,161.60C522.32,164.54 522.56,167.24 523.70,170.20C524.84,173.16 525.26,174.46 527.10,176.40C528.94,178.34 529.32,178.48 532.90,179.90C536.48,181.32 539.58,182.44 545.00,183.50C550.42,184.56 544.62,184.46 560.00,185.20C575.38,185.94 609.52,186.80 621.90,187.20" fill="none" stroke="#f24b4b" stroke-width="1.25" stroke-linejoin="round"/><path d="M367.80,191.50C378.24,191.46 404.56,191.50 420.00,191.30C435.44,191.10 437.82,191.02 445.00,190.50C452.18,189.98 452.12,189.74 455.90,188.70C459.68,187.66 461.12,186.70 463.90,185.30C466.68,183.90 467.58,183.20 469.80,181.70C472.02,180.20 472.90,179.32 475.00,177.80C477.10,176.28 478.10,175.52 480.30,174.10C482.50,172.68 484.18,172.06 486.00,170.70C487.82,169.34 488.02,168.66 489.40,167.30C490.78,165.94 491.06,165.28 492.90,163.90C494.74,162.52 496.56,161.56 498.60,160.40C500.64,159.24 501.28,158.10 503.10,158.10C504.92,158.10 506.32,159.70 507.70,160.40C509.08,161.10 508.86,160.68 510.00,161.60C511.14,162.52 512.02,163.18 513.40,165.00C514.78,166.82 515.30,168.18 516.90,170.70C518.50,173.22 519.80,175.08 521.40,177.60C523.00,180.12 523.06,181.92 524.90,183.30C526.74,184.68 526.58,184.06 530.60,184.50C534.62,184.94 539.12,185.14 545.00,185.50C550.88,185.86 544.62,185.80 560.00,186.30C575.38,186.80 609.52,187.66 621.90,188.00" fill="none" stroke="#3a78e0" stroke-width="1.25" stroke-linejoin="round"/><path d="M367.80,191.50C375.24,191.44 392.68,191.58 405.00,191.20C417.32,190.82 422.40,190.14 429.40,189.60C436.40,189.06 436.12,189.30 440.00,188.50C443.88,187.70 446.02,186.62 448.80,185.60C451.58,184.58 451.28,184.76 453.90,183.40C456.52,182.04 459.12,181.12 461.90,178.80C464.68,176.48 465.82,174.78 467.80,171.80C469.78,168.82 470.36,166.90 471.80,163.90C473.24,160.90 473.30,160.46 475.00,156.80C476.70,153.14 478.56,150.14 480.30,145.60C482.04,141.06 482.36,138.62 483.70,134.10C485.04,129.58 485.06,128.42 487.00,123.00C488.94,117.58 491.58,111.26 493.40,107.00C495.22,102.74 494.50,101.96 496.10,101.70C497.70,101.44 499.26,102.50 501.40,105.70C503.54,108.90 504.64,112.64 506.80,117.70C508.96,122.76 510.64,126.80 512.20,131.00C513.76,135.20 513.66,135.32 514.60,138.70C515.54,142.08 515.76,144.24 516.90,147.90C518.04,151.56 518.94,154.04 520.30,157.00C521.66,159.96 522.34,160.64 523.70,162.70C525.06,164.76 525.26,165.02 527.10,167.30C528.94,169.58 530.38,172.04 532.90,174.10C535.42,176.16 536.28,176.58 539.70,177.60C543.12,178.62 545.94,178.66 550.00,179.20C554.06,179.74 552.00,179.56 560.00,180.30C568.00,181.04 577.62,181.92 590.00,182.90C602.38,183.88 615.52,184.74 621.90,185.20" fill="none" stroke="#3cb371" stroke-width="1.25" stroke-linejoin="round"/><path d="M367.80,191.50C376.24,191.44 395.40,191.68 410.00,191.20C424.60,190.72 432.82,189.80 440.80,189.10C448.78,188.40 446.08,188.78 449.90,187.70C453.72,186.62 456.72,185.48 459.90,183.70C463.08,181.92 463.42,181.18 465.80,178.80C468.18,176.42 469.96,174.20 471.80,171.80C473.64,169.40 473.54,168.84 475.00,166.80C476.46,164.76 477.58,164.02 479.10,161.60C480.62,159.18 481.22,157.90 482.60,154.70C483.98,151.50 484.64,149.26 486.00,145.60C487.36,141.94 488.02,139.38 489.40,136.40C490.78,133.42 491.30,131.60 492.90,130.70C494.50,129.80 495.36,130.98 497.40,131.90C499.44,132.82 501.26,133.48 503.10,135.30C504.94,137.12 505.44,138.72 506.60,141.00C507.76,143.28 507.54,143.96 508.90,146.70C510.26,149.44 511.58,151.50 513.40,154.70C515.22,157.90 516.16,159.50 518.00,162.70C519.84,165.90 521.00,168.42 522.60,170.70C524.20,172.98 523.94,172.50 526.00,174.10C528.06,175.70 529.10,177.12 532.90,178.70C536.70,180.28 539.58,181.00 545.00,182.00C550.42,183.00 544.62,182.84 560.00,183.70C575.38,184.56 609.52,185.78 621.90,186.30" fill="none" stroke="#b97cf0" stroke-width="1.25" stroke-linejoin="round"/><path d="M367.80,191.50C374.24,191.46 390.56,191.46 400.00,191.30C409.44,191.14 409.12,191.14 415.00,190.70C420.88,190.26 424.40,189.90 429.40,189.10C434.40,188.30 436.28,187.98 440.00,186.70C443.72,185.42 444.82,184.68 448.00,182.70C451.18,180.72 453.12,179.38 455.90,176.80C458.68,174.22 459.92,172.78 461.90,169.80C463.88,166.82 464.22,165.88 465.80,161.90C467.38,157.92 468.40,154.28 469.80,149.90C471.20,145.52 471.82,143.22 472.80,140.00C473.78,136.78 473.10,139.86 474.70,133.80C476.30,127.74 478.66,118.26 480.80,109.70C482.94,101.14 483.92,97.34 485.40,91.00C486.88,84.66 487.16,82.12 488.20,78.00C489.24,73.88 489.60,73.60 490.60,70.40C491.60,67.20 492.46,64.36 493.20,62.00C493.94,59.64 493.88,60.50 494.30,58.60C494.72,56.70 494.86,54.78 495.30,52.50C495.74,50.22 495.90,48.88 496.50,47.20C497.10,45.52 497.64,44.26 498.30,44.10C498.96,43.94 499.18,44.72 499.80,46.40C500.42,48.08 500.78,50.06 501.40,52.50C502.02,54.94 502.42,56.70 502.90,58.60C503.38,60.50 503.06,59.88 503.80,62.00C504.54,64.12 505.68,66.40 506.60,69.20C507.52,72.00 507.30,69.50 508.40,76.00C509.50,82.50 510.82,93.90 512.10,101.70C513.38,109.50 513.70,110.34 514.80,115.00C515.90,119.66 516.50,121.18 517.60,125.00C518.70,128.82 518.84,129.52 520.30,134.10C521.76,138.68 523.30,143.78 524.90,147.90C526.50,152.02 526.70,151.50 528.30,154.70C529.90,157.90 531.08,161.16 532.90,163.90C534.72,166.64 535.36,166.68 537.40,168.40C539.44,170.12 540.78,171.18 543.10,172.50C545.42,173.82 545.62,174.40 549.00,175.00C552.38,175.60 545.42,174.16 560.00,175.50C574.58,176.84 609.52,180.46 621.90,181.70" fill="none" stroke="#dca530" stroke-width="1.25" stroke-linejoin="round"/><path d="M367.80,191.50C373.24,191.46 387.26,191.42 395.00,191.30C402.74,191.18 401.92,191.16 406.50,190.90C411.08,190.64 413.32,190.60 417.90,190.00C422.48,189.40 425.98,188.64 429.40,187.90C432.82,187.16 432.88,186.94 435.00,186.30C437.12,185.66 437.80,185.80 440.00,184.70C442.20,183.60 443.62,182.58 446.00,180.80C448.38,179.02 449.72,178.40 451.90,175.80C454.08,173.20 455.10,171.38 456.90,167.80C458.70,164.22 459.38,161.66 460.90,157.90C462.42,154.14 463.28,152.38 464.50,149.00C465.72,145.62 465.96,143.84 467.00,141.00C468.04,138.16 468.54,138.54 469.70,134.80C470.86,131.06 471.54,127.74 472.80,122.30C474.06,116.86 474.86,113.06 476.00,107.60C477.14,102.14 477.42,101.32 478.50,95.00C479.58,88.68 480.18,82.60 481.40,76.00C482.62,69.40 483.72,65.78 484.60,62.00C485.48,58.22 485.20,59.46 485.80,57.10C486.40,54.74 486.86,52.80 487.60,50.20C488.34,47.60 488.88,45.78 489.50,44.10C490.12,42.42 490.16,42.72 490.70,41.80C491.24,40.88 491.66,41.02 492.20,39.50C492.74,37.98 492.78,36.18 493.40,34.20C494.02,32.22 494.38,30.76 495.30,29.60C496.22,28.44 496.94,28.40 498.00,28.40C499.06,28.40 499.68,28.44 500.60,29.60C501.52,30.76 501.78,31.76 502.60,34.20C503.42,36.64 503.88,38.74 504.70,41.80C505.52,44.86 506.00,46.74 506.70,49.50C507.40,52.26 507.60,53.10 508.20,55.60C508.80,58.10 508.92,58.12 509.70,62.00C510.48,65.88 510.56,67.06 512.10,75.00C513.64,82.94 515.52,91.70 517.40,101.70C519.28,111.70 520.28,118.34 521.50,125.00C522.72,131.66 522.60,131.12 523.50,135.00C524.40,138.88 524.82,140.92 526.00,144.40C527.18,147.88 527.58,148.96 529.40,152.40C531.22,155.84 532.80,158.82 535.10,161.60C537.40,164.38 538.60,164.62 540.90,166.30C543.20,167.98 544.38,168.96 546.60,170.00C548.82,171.04 549.32,171.06 552.00,171.50C554.68,171.94 552.30,171.82 560.00,172.20C567.70,172.58 578.12,172.20 590.50,173.40C602.88,174.60 615.62,177.24 621.90,178.20" fill="none" stroke="#2dd0d8" stroke-width="1.25" stroke-linejoin="round"/><rect x="369.6" y="6.9" width="110.7" height="61.7" fill="#fff" stroke="#aaa" stroke-width="0.8"/><line x1="370.3" y1="11.2" x2="384.8" y2="11.2" stroke="#555" stroke-width="1.3"/><text x="469.91 474.07 478.22 482.38 486.54 490.69 494.85 499.01 503.16" y="14.00" font-size="7.5" fill="#444" text-anchor="middle" transform="scale(0.83,1)" stroke="#444" stroke-width="0.12">TENG1(P1)</text><line x1="370.3" y1="19.1" x2="384.8" y2="19.1" stroke="#f24b4b" stroke-width="1.3"/><text x="469.91 474.07 478.22 482.38 486.54 490.69 494.85 499.01 503.16" y="21.90" font-size="7.5" fill="#444" text-anchor="middle" transform="scale(0.83,1)" stroke="#444" stroke-width="0.12">TENG2(P2)</text><line x1="370.3" y1="27.0" x2="384.8" y2="27.0" stroke="#3a78e0" stroke-width="1.3"/><text x="469.91 474.07 478.22 482.38 486.54 490.69 494.85 499.01 503.16" y="29.80" font-size="7.5" fill="#444" text-anchor="middle" transform="scale(0.83,1)" stroke="#444" stroke-width="0.12">TENG3(P3)</text><line x1="370.3" y1="34.6" x2="384.8" y2="34.6" stroke="#3cb371" stroke-width="1.3"/><text x="469.91 474.07 478.22 482.38 486.54 490.69 494.85 499.01 503.16 507.32 511.48 515.63 519.79 523.95" y="37.40" font-size="7.5" fill="#444" text-anchor="middle" transform="scale(0.83,1)" stroke="#444" stroke-width="0.12">TENG1<tspan font-family="Liberation Mono, monospace" font-size="7.12">/</tspan><tspan font-family="Liberation Mono, monospace" font-size="7.12">/</tspan>TENG2(P</text><text x="486.11" y="38.80" font-size="4.8" fill="#444" text-anchor="middle" transform="scale(0.9,1)" stroke="#444" stroke-width="0.08">s</text><text x="530.75 534.91 539.07" y="37.40" font-size="7.5" fill="#444" text-anchor="middle" transform="scale(0.83,1)" stroke="#444" stroke-width="0.12">12)</text><line x1="370.3" y1="43.6" x2="384.8" y2="43.6" stroke="#b97cf0" stroke-width="1.3"/><text x="469.91 474.07 478.22 482.38 486.54 490.69 494.85 499.01 503.16 507.32 511.48 515.63 519.79 523.95" y="46.40" font-size="7.5" fill="#444" text-anchor="middle" transform="scale(0.83,1)" stroke="#444" stroke-width="0.12">TENG1<tspan font-family="Liberation Mono, monospace" font-size="7.12">/</tspan><tspan font-family="Liberation Mono, monospace" font-size="7.12">/</tspan>TENG3(P</text><text x="486.11" y="47.80" font-size="4.8" fill="#444" text-anchor="middle" transform="scale(0.9,1)" stroke="#444" stroke-width="0.08">s</text><text x="530.75 534.91 539.07" y="46.40" font-size="7.5" fill="#444" text-anchor="middle" transform="scale(0.83,1)" stroke="#444" stroke-width="0.12">13)</text><line x1="370.3" y1="53.5" x2="384.8" y2="53.5" stroke="#dca530" stroke-width="1.3"/><text x="469.91 474.07 478.22 482.38 486.54 490.69 494.85 499.01 503.16 507.32 511.48 515.63 519.79 523.95" y="56.30" font-size="7.5" fill="#444" text-anchor="middle" transform="scale(0.83,1)" stroke="#444" stroke-width="0.12">TENG2<tspan font-family="Liberation Mono, monospace" font-size="7.12">/</tspan><tspan font-family="Liberation Mono, monospace" font-size="7.12">/</tspan>TENG3(P</text><text x="486.11" y="57.70" font-size="4.8" fill="#444" text-anchor="middle" transform="scale(0.9,1)" stroke="#444" stroke-width="0.08">s</text><text x="530.75 534.91 539.07" y="56.30" font-size="7.5" fill="#444" text-anchor="middle" transform="scale(0.83,1)" stroke="#444" stroke-width="0.12">23)</text><line x1="370.3" y1="63.2" x2="384.8" y2="63.2" stroke="#2dd0d8" stroke-width="1.3"/><text x="469.91 474.07 478.22 482.38 486.54 490.69 494.85 499.01 503.16 507.32 511.48 515.63 519.79 523.95 528.10 532.26 536.42 540.57 544.73 548.89 553.04" y="66.00" font-size="7.5" fill="#444" text-anchor="middle" transform="scale(0.83,1)" stroke="#444" stroke-width="0.12">TENG1<tspan font-family="Liberation Mono, monospace" font-size="7.12">/</tspan><tspan font-family="Liberation Mono, monospace" font-size="7.12">/</tspan>TENG2<tspan font-family="Liberation Mono, monospace" font-size="7.12">/</tspan><tspan font-family="Liberation Mono, monospace" font-size="7.12">/</tspan>TENG3(P</text><text x="512.94" y="67.40" font-size="4.8" fill="#444" text-anchor="middle" transform="scale(0.9,1)" stroke="#444" stroke-width="0.08">s</text><text x="559.85 564.01 568.16 572.32" y="66.00" font-size="7.5" fill="#444" text-anchor="middle" transform="scale(0.83,1)" stroke="#444" stroke-width="0.12">123)</text></svg></body></html>
